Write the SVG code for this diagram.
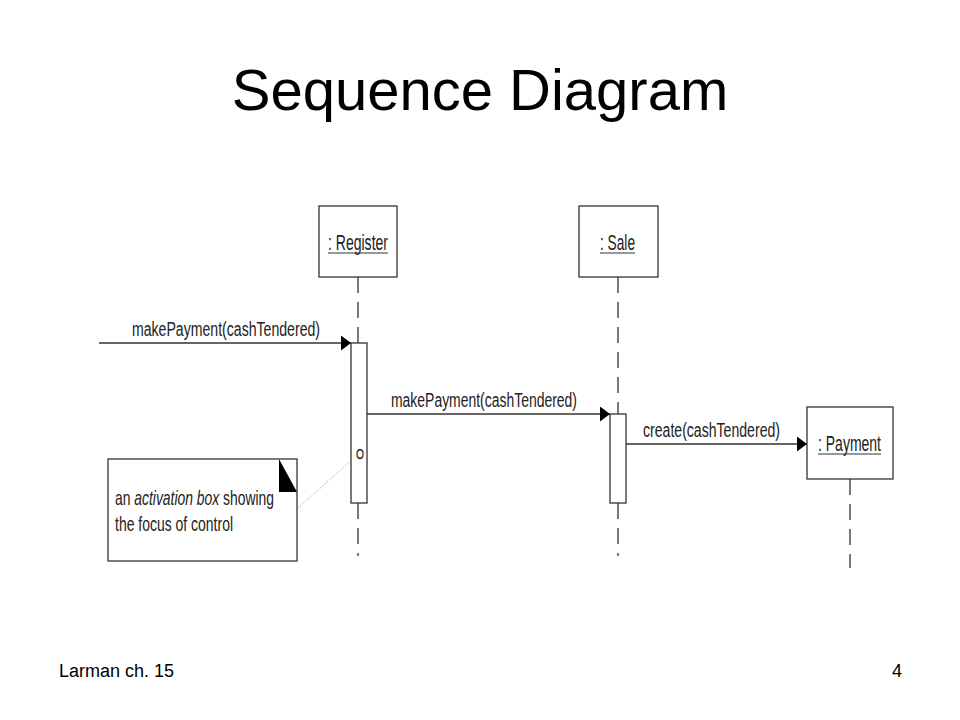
<svg xmlns="http://www.w3.org/2000/svg" width="960" height="720" viewBox="0 0 960 720">
<defs>
<style>
.t{font-family:"Liberation Sans",Arial,sans-serif;fill:#000}
.lbl{font-family:"Liberation Sans",Arial,sans-serif;fill:#222}
.m{font-size:20px}
.o{font-size:22px}
.n{font-size:21px}
.box{fill:#fff;stroke:#333;stroke-width:1.3}
.life{stroke:#333;stroke-width:1.3;stroke-dasharray:16 9;fill:none}
.msg{stroke:#333;stroke-width:1.3;fill:none;marker-end:url(#ah)}
.ul{stroke:#333;stroke-width:1.2}
</style>
<marker id="ah" markerUnits="userSpaceOnUse" markerWidth="11" markerHeight="16" refX="10" refY="7.5" orient="auto">
<path d="M0,0 L10,7.5 L0,15 Z" fill="#000"/>
</marker>
</defs>
<rect width="960" height="720" fill="#fff"/>
<text class="t" x="480" y="110" font-size="58" text-anchor="middle">Sequence Diagram</text>

<g id="connectors">
<line class="life" x1="358" y1="277" x2="358" y2="343"/>
<line class="life" x1="358" y1="503" x2="358" y2="556"/>
<line class="life" x1="618" y1="277" x2="618" y2="414"/>
<line class="life" x1="618" y1="503" x2="618" y2="556"/>
<line class="life" x1="850" y1="479" x2="850" y2="568"/>
<line class="msg" x1="99" y1="343" x2="351" y2="343"/>
<text class="lbl m" x="132" y="336" textLength="188" lengthAdjust="spacingAndGlyphs">makePayment(cashTendered)</text>
<line class="msg" x1="367" y1="414" x2="610" y2="414"/>
<text class="lbl m" x="391" y="407" textLength="186" lengthAdjust="spacingAndGlyphs">makePayment(cashTendered)</text>
<line class="msg" x1="626" y1="444" x2="807" y2="444"/>
<text class="lbl m" x="643" y="437" textLength="137" lengthAdjust="spacingAndGlyphs">create(cashTendered)</text>
<line x1="298" y1="508" x2="353" y2="459" stroke="#888" stroke-width="1" stroke-dasharray="1 2"/>
</g>

<g id="register">
<rect class="box" x="319" y="206" width="78" height="71"/>
<text class="lbl o" x="328" y="250" textLength="60" lengthAdjust="spacingAndGlyphs">: Register</text>
<line class="ul" x1="328" y1="253" x2="388" y2="253"/>
</g>

<g id="register-activation">
<rect class="box" x="351" y="343" width="16" height="160"/>
<text class="t" x="356" y="459" style="font-size:15px" textLength="8" lengthAdjust="spacingAndGlyphs" fill="#222">O</text>
</g>

<g id="sale">
<rect class="box" x="579" y="206" width="79" height="71"/>
<text class="lbl o" x="600" y="250" textLength="35" lengthAdjust="spacingAndGlyphs">: Sale</text>
<line class="ul" x1="600" y1="253" x2="635" y2="253"/>
</g>

<g id="sale-activation">
<rect class="box" x="610" y="414" width="16" height="89"/>
</g>

<g id="payment">
<rect class="box" x="807" y="407" width="86" height="72"/>
<text class="lbl o" x="818" y="451" textLength="63" lengthAdjust="spacingAndGlyphs">: Payment</text>
<line class="ul" x1="818" y1="454" x2="881" y2="454"/>
</g>

<g id="note">
<rect class="box" x="108" y="459" width="189" height="102"/>
<path d="M279,459 L279,492 L297,492 Z" fill="#000"/>
<text class="lbl n" x="115" y="505" textLength="159" lengthAdjust="spacingAndGlyphs">an <tspan font-style="italic">activation box</tspan> showing</text>
<text class="lbl n" x="115" y="531" textLength="118" lengthAdjust="spacingAndGlyphs">the focus of control</text>
</g>

<text class="t" x="59" y="677" font-size="18">Larman ch. 15</text>
<text class="t" x="892" y="677" font-size="18">4</text>
</svg>
